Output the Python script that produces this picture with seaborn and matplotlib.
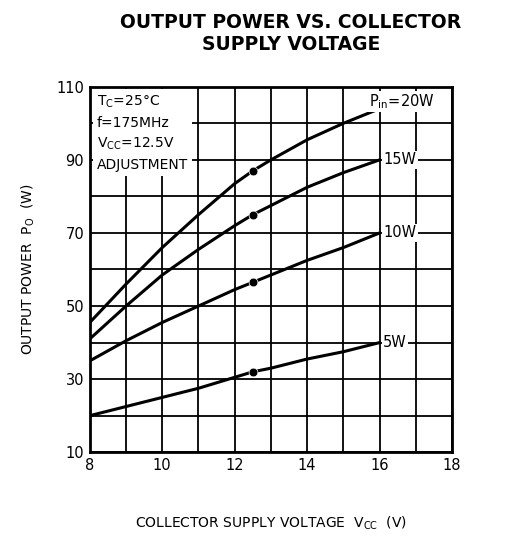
import matplotlib
matplotlib.use("Agg")
import matplotlib.pyplot as plt
import seaborn as sns
import pandas as pd

vcc = [8, 9, 10, 11, 12, 12.5, 13, 14, 15, 16]
p20 = [45.5, 56, 66, 75, 83.5, 87, 90, 95.5, 100, 104]
p15 = [41, 50, 58.5, 65.5, 72, 75, 77.5, 82.5, 86.5, 90]
p10 = [35, 40.5, 45.5, 50, 54.5, 56.5, 58.5, 62.5, 66, 70]
p5 = [20, 22.5, 25, 27.5, 30.5, 32, 33, 35.5, 37.5, 40]
labels = ["20W", "15W", "10W", "5W"]
series = [p20, p15, p10, p5]
xticks = [8, 10, 12, 14, 16, 18]
yticks = [10, 30, 50, 70, 90, 110]

sns.set_style("white")
plt.rcParams['font.family'] = ['DejaVu Sans']
plt.rcParams['text.color'] = 'black'
plt.rcParams['axes.labelcolor'] = 'black'
plt.rcParams['xtick.color'] = 'black'
plt.rcParams['ytick.color'] = 'black'
fig = plt.figure(figsize=(5.19, 5.39), dpi=100)
ax = fig.add_axes([0.173, 0.161, 0.698, 0.678])

rows = []
for lab, s in zip(labels, series):
    for x, y in zip(vcc, s):
        rows.append(dict(vcc=x, po=y, pin=lab))
df = pd.DataFrame(rows)
sns.lineplot(data=df, x="vcc", y="po", units="pin", estimator=None, color="black",
             lw=2.2, ax=ax, legend=False, zorder=3)
dots = df[df.vcc == 12.5]
sns.scatterplot(data=dots, x="vcc", y="po", color="black", s=40, ax=ax, zorder=4, legend=False)

ax.set_xlim(8, 18)
ax.set_ylim(10, 110)
ax.set_xticks(xticks)
ax.set_yticks(yticks)
ax.set_xticks(range(8, 19), minor=True)
ax.set_yticks(range(10, 111, 10), minor=True)
ax.grid(which="both", color="black", lw=1.3)
ax.tick_params(which="both", length=0, labelsize=10.5, pad=4)
for sp in ax.spines.values():
    sp.set_linewidth(2)
    sp.set_color("black")

bb = dict(facecolor="white", edgecolor="none", pad=1)
ax.text(8.2, 108, "T$_{\\rm C}$=25°C\nf=175MHz\nV$_{\\rm CC}$=12.5V\nADJUSTMENT",
        va="top", ha="left", fontsize=10, linespacing=1.5,
        bbox=dict(facecolor="white", edgecolor="none", pad=3), zorder=5)
ax.text(16.6, 106, "P$_{\\rm in}$=20W", ha="center", va="center", fontsize=10.5, bbox=bb, zorder=5)
for lab, y in zip(labels[1:], [90, 70, 40]):
    ax.text(16.1, y, lab, ha="left", va="center", fontsize=10.5, bbox=bb, zorder=5)

ax.set_xlabel("COLLECTOR SUPPLY VOLTAGE  V$_{\\rm CC}$  (V)", fontsize=10, labelpad=30)
ax.set_ylabel("OUTPUT POWER  P$_{\\rm O}$  (W)", fontsize=10, labelpad=14)
fig.suptitle("OUTPUT POWER VS. COLLECTOR\nSUPPLY VOLTAGE", x=0.56, y=0.975,
             fontsize=13.5, fontweight="bold", color="black")
fig.savefig("out.png", dpi=100)
